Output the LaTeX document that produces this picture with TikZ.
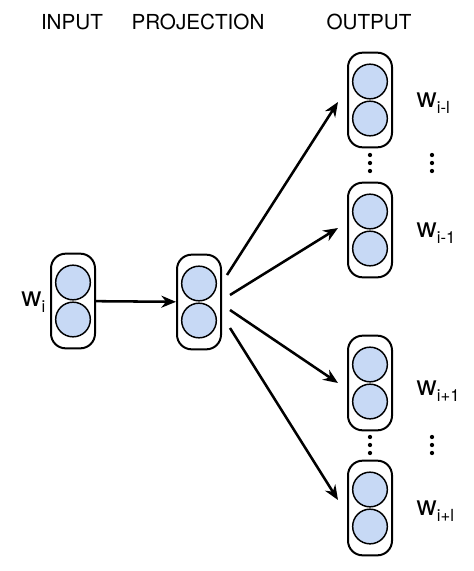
\documentclass[tikz,border=0pt]{standalone}
\usepackage{fontspec}
\setmainfont{TeX Gyre Heros}
\usetikzlibrary{arrows.meta,calc}
\definecolor{neuronblue}{RGB}{199,217,245}
\newcommand{\wsub}[1]{w\raisebox{-0.4ex}{\fontsize{12.5}{14}\selectfont #1}}

\begin{document}
\begin{tikzpicture}[x=0.75pt,y=-0.75pt,
  vecbox/.style={draw, line width=1.5pt, rounded corners=11pt, minimum width=33pt, minimum height=71pt, inner sep=0pt},
  neuron/.style={circle, draw, line width=1.1pt, fill=neuronblue, minimum size=26pt, inner sep=0pt},
  link/.style={line width=1.9pt, -{Stealth[length=11pt,width=9pt]}},
  head/.style={font=\fontsize{15.5}{18}\selectfont},
  word/.style={font=\fontsize{21}{24}\selectfont, anchor=west},
  vdots/.style={fill=black, circle, inner sep=0pt, minimum size=3.2pt}
]
\useasboundingbox (0,0) rectangle (474,571);

% Column titles
\node[head] (tin) at (72,22) {INPUT};
\node[head] (tproj) at (198,22) {PROJECTION};
\node[head] (tout) at (369,22) {OUTPUT};

% Word vectors: box with two units
\foreach \name/\x/\y in {in/73/301, proj/199/302, out1/370/100, out2/370/230, out3/370/383, out4/370/508} {
  \node[vecbox] (\name) at (\x,\y) {};
  \node[neuron] (\name-a) at (\x,\y-18.5) {};
  \node[neuron] (\name-b) at (\x,\y+18.5) {};
}

% Word labels
\node[word, anchor=east] (win) at (50,302) {\wsub{i}};
\node[word] (wout1) at (412,103) {\wsub{i-l}};
\node[word] (wout2) at (412,233) {\wsub{i-1}};
\node[word] (wout3) at (412,391) {\wsub{i+1}};
\node[word] (wout4) at (412,511) {\wsub{i+l}};

% Vertical dots
\foreach \x/\y in {370/163, 432/163, 370/445, 432/445} {
  \foreach \d in {-8,0,8}
    \node[vdots] at (\x,\y+\d) {};
}

% Arrows
\draw[link] (in) -- (proj);
\coordinate (s1) at (227,275);
\coordinate (s2) at (230,295);
\coordinate (s3) at (230,310);
\coordinate (s4) at (230,328);
\coordinate (e1) at (338,102);
\coordinate (e2) at (338,228);
\coordinate (e3) at (338,383);
\coordinate (e4) at (338,500);
\foreach \i in {1,...,4}
  \draw[link] (s\i) -- (e\i);
\end{tikzpicture}
\end{document}
